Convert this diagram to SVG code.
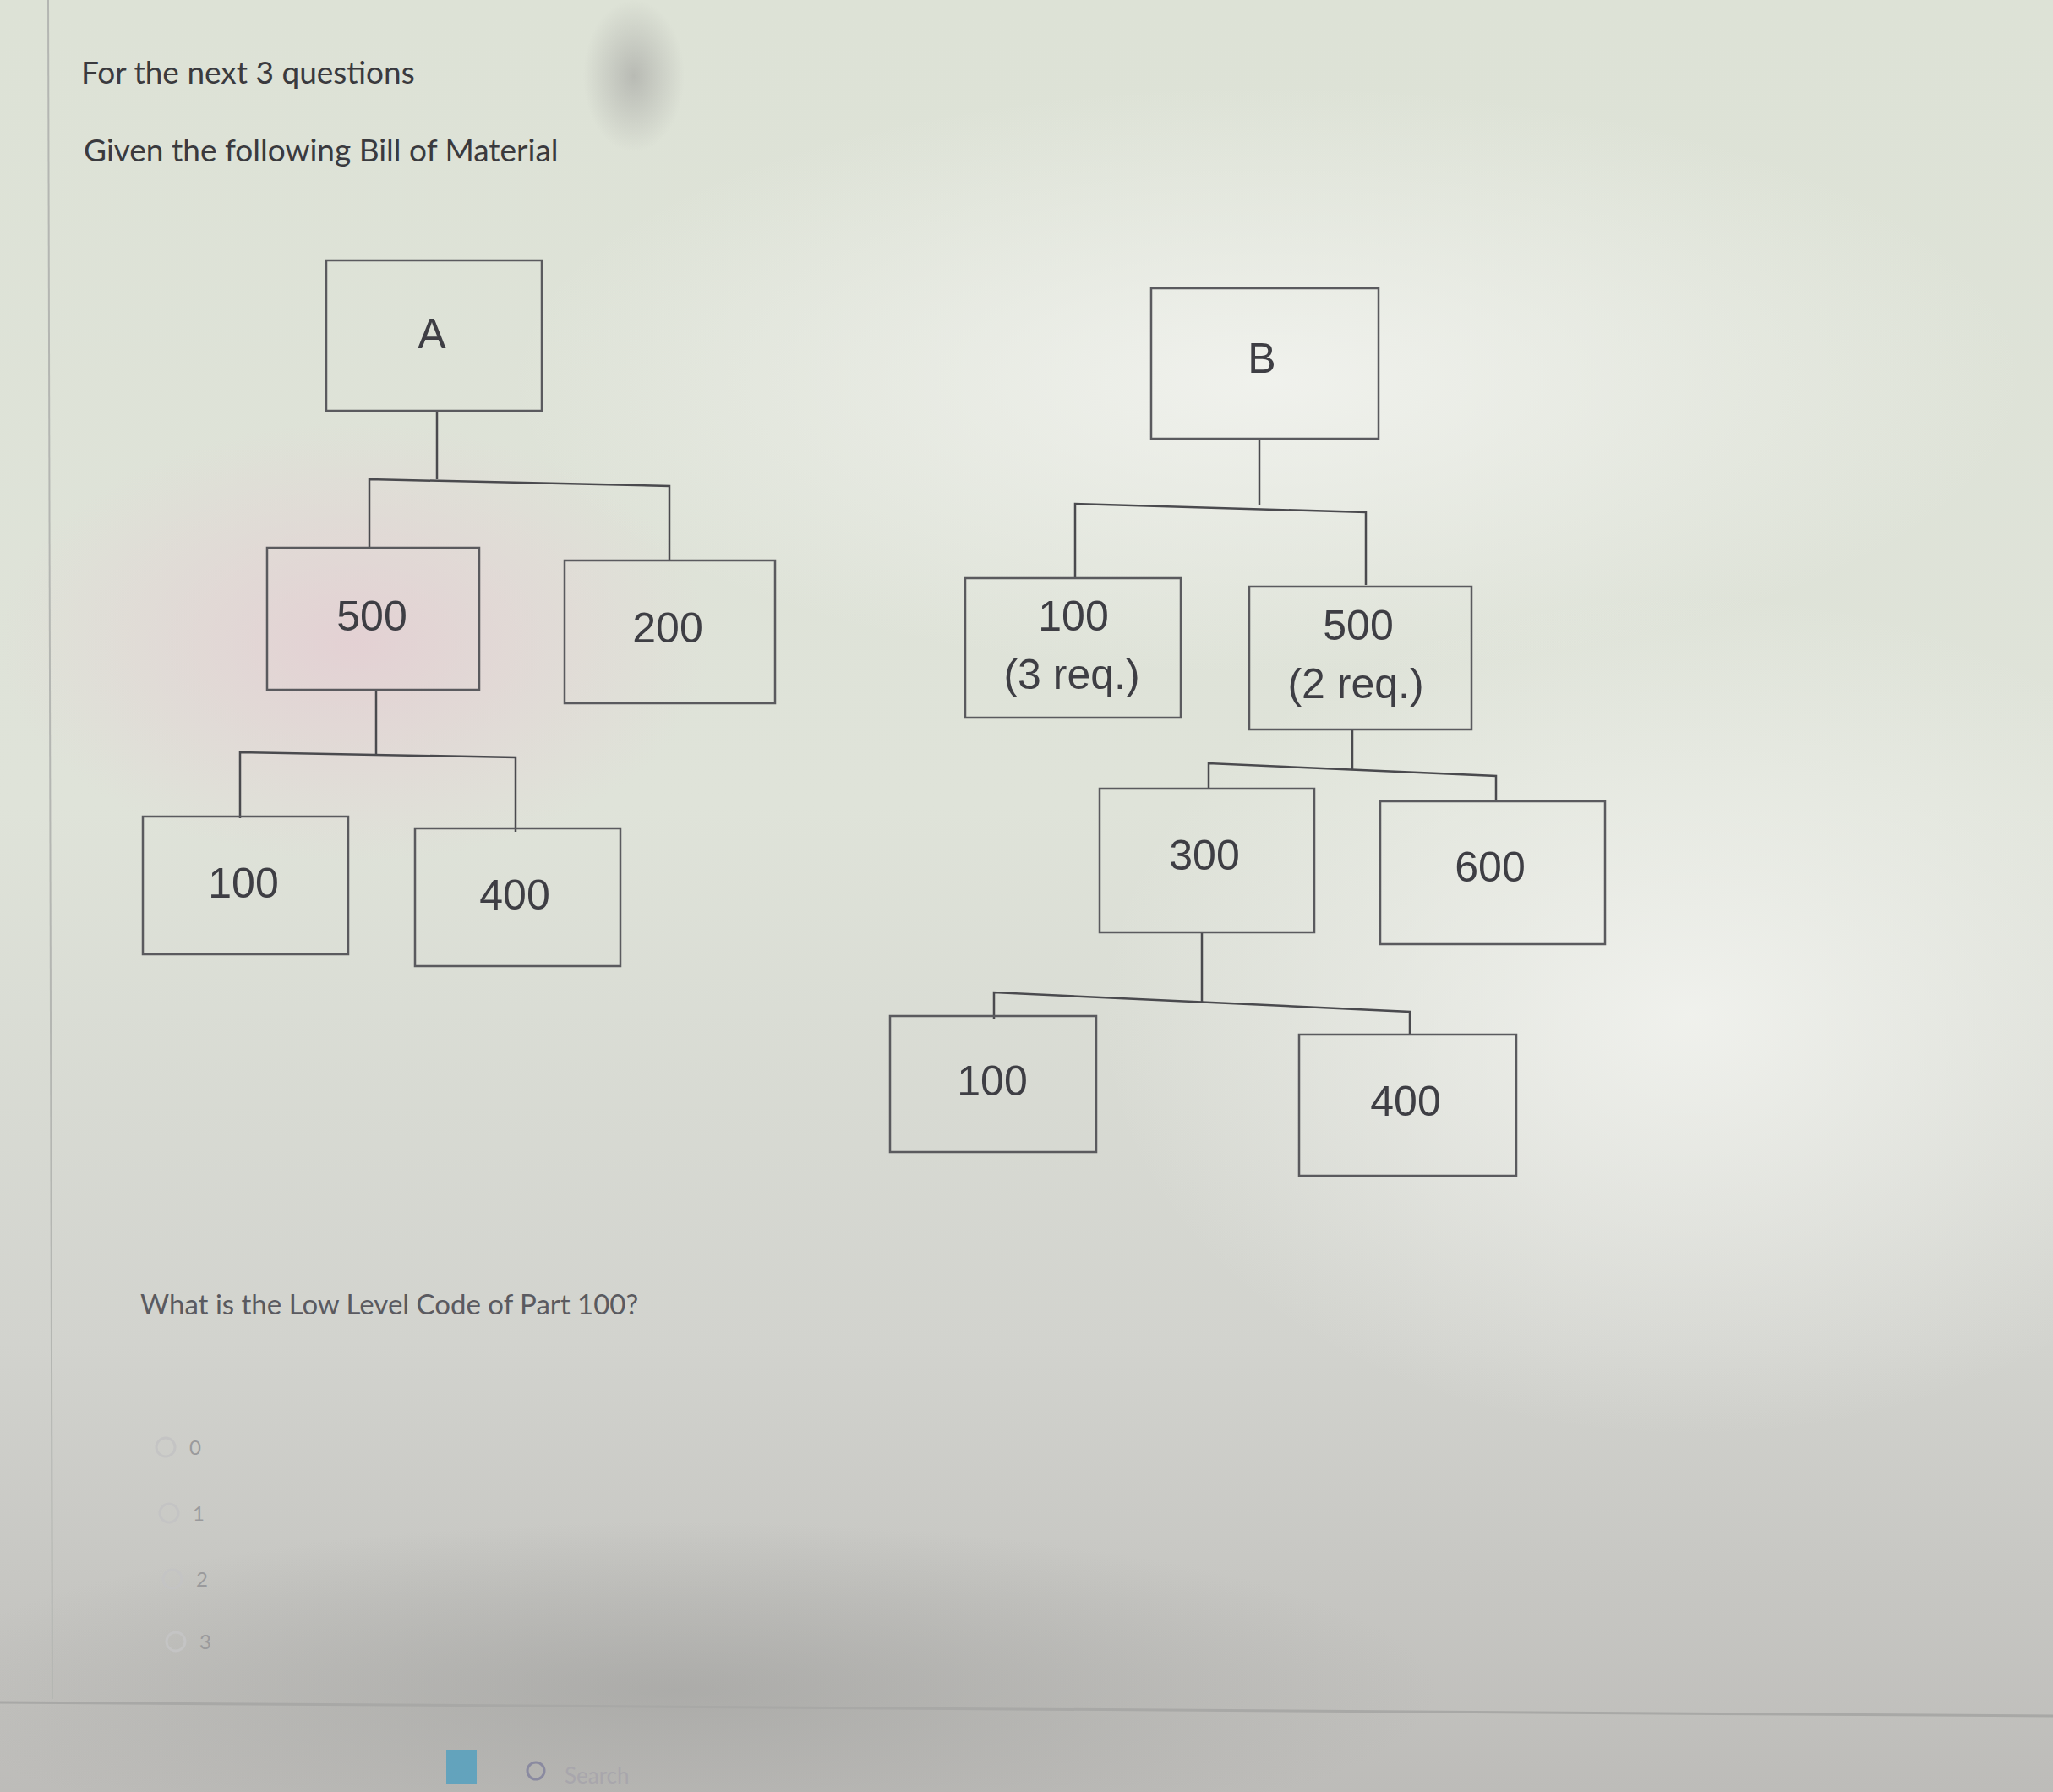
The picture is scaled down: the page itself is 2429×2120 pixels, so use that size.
<svg xmlns="http://www.w3.org/2000/svg" width="2429" height="2120" viewBox="0 0 2429 2120">
<defs>
<linearGradient id="bg" x1="0" y1="0" x2="0" y2="1">
<stop offset="0" stop-color="#dde2d6"/>
<stop offset="0.45" stop-color="#dfe3d9"/>
<stop offset="0.75" stop-color="#d2d3ce"/>
<stop offset="1" stop-color="#bdbcb9"/>
</linearGradient>
<radialGradient id="pink" cx="0.5" cy="0.5" r="0.5">
<stop offset="0" stop-color="#e4cfd3" stop-opacity="0.9"/>
<stop offset="1" stop-color="#e4cfd3" stop-opacity="0"/>
</radialGradient>
<radialGradient id="white" cx="0.5" cy="0.5" r="0.5">
<stop offset="0" stop-color="#f2f3ef" stop-opacity="0.9"/>
<stop offset="1" stop-color="#f2f3ef" stop-opacity="0"/>
</radialGradient>
<radialGradient id="dark" cx="0.5" cy="0.5" r="0.5">
<stop offset="0" stop-color="#9a9a98" stop-opacity="0.55"/>
<stop offset="1" stop-color="#9a9a98" stop-opacity="0"/>
</radialGradient>
<style>
.box{fill:none;stroke:#5a5a5e;stroke-width:2.5}
.lbl{font-family:"Liberation Sans",Arial,sans-serif;font-size:50px;fill:#3e3e44;text-anchor:middle}
.con{fill:none;stroke:#4a4a4e;stroke-width:2.5}
.hdr{font-family:Lato,"Liberation Sans",sans-serif;font-size:37px;fill:#3a3a3e}
.q{font-family:Lato,"Liberation Sans",sans-serif;font-size:33px;fill:#5a5a60}
.opt{font-family:Lato,"Liberation Sans",sans-serif;font-size:24px;fill:#9a9a9c}
</style>
</defs>
<rect x="0" y="0" width="2429" height="2120" fill="url(#bg)"/>
<ellipse cx="420" cy="760" rx="420" ry="260" fill="url(#pink)"/>
<ellipse cx="1500" cy="450" rx="900" ry="350" fill="url(#white)"/>
<ellipse cx="2000" cy="1200" rx="700" ry="500" fill="url(#white)"/>
<ellipse cx="750" cy="90" rx="60" ry="90" fill="url(#dark)"/>
<ellipse cx="800" cy="2000" rx="900" ry="200" fill="url(#dark)"/>
<line x1="57" y1="0" x2="62" y2="2010" stroke="#b4b6b2" stroke-width="2"/>
<line x1="0" y1="2014" x2="2429" y2="2030" stroke="#a8a8a6" stroke-width="3"/>

<text class="hdr" x="96" y="99">For the next 3 questions</text>
<text class="hdr" x="99" y="191">Given the following Bill of Material</text>

<g id="connectors">
<polyline class="con" points="517,486 517,567"/>
<polyline class="con" points="437,648 437,567 792,575 792,663"/>
<polyline class="con" points="445,816 445,894"/>
<polyline class="con" points="284,968 284,890 610,896 610,984"/>
<polyline class="con" points="1490,519 1490,598"/>
<polyline class="con" points="1272,683 1272,596 1616,606 1616,692"/>
<polyline class="con" points="1600,863 1600,910"/>
<polyline class="con" points="1430,933 1430,903 1770,918 1770,948"/>
<polyline class="con" points="1422,1103 1422,1186"/>
<polyline class="con" points="1176,1205 1176,1174 1668,1197 1668,1224"/>
</g>

<g id="nodeA"><rect class="box" x="386" y="308" width="255" height="178"/><text class="lbl" x="511" y="412">A</text></g>
<g id="nodeA500"><rect class="box" x="316" y="648" width="251" height="168"/><text class="lbl" x="440" y="746">500</text></g>
<g id="nodeA200"><rect class="box" x="668" y="663" width="249" height="169"/><text class="lbl" x="790" y="760">200</text></g>
<g id="nodeA100"><rect class="box" x="169" y="966" width="243" height="163"/><text class="lbl" x="288" y="1062">100</text></g>
<g id="nodeA400"><rect class="box" x="491" y="980" width="243" height="163"/><text class="lbl" x="609" y="1076">400</text></g>

<g id="nodeB"><rect class="box" x="1362" y="341" width="269" height="178"/><text class="lbl" x="1493" y="441">B</text></g>
<g id="nodeB100"><rect class="box" x="1142" y="684" width="255" height="165"/><text class="lbl" x="1270" y="746">100</text><text class="lbl" x="1268" y="815">(3 req.)</text></g>
<g id="nodeB500"><rect class="box" x="1478" y="694" width="263" height="169"/><text class="lbl" x="1607" y="757">500</text><text class="lbl" x="1604" y="826">(2 req.)</text></g>
<g id="nodeB300"><rect class="box" x="1301" y="933" width="254" height="170"/><text class="lbl" x="1425" y="1029">300</text></g>
<g id="nodeB600"><rect class="box" x="1633" y="948" width="266" height="169"/><text class="lbl" x="1763" y="1043">600</text></g>
<g id="nodeB100b"><rect class="box" x="1053" y="1202" width="244" height="161"/><text class="lbl" x="1174" y="1296">100</text></g>
<g id="nodeB400"><rect class="box" x="1537" y="1224" width="257" height="167"/><text class="lbl" x="1663" y="1320">400</text></g>

<text class="q" x="166" y="1555">What is the Low Level Code of Part 100?</text>
<g fill="none" stroke="#c4c4c4" stroke-width="3">
<circle cx="196" cy="1712" r="11"/>
<circle cx="200" cy="1790" r="11"/>
<circle cx="204" cy="1868" r="11"/>
<circle cx="208" cy="1942" r="11"/>
</g>
<text class="opt" x="224" y="1721">0</text>
<text class="opt" x="228" y="1799">1</text>
<text class="opt" x="232" y="1877">2</text>
<text class="opt" x="236" y="1951">3</text>

<rect x="528" y="2070" width="36" height="40" fill="#4f9fbf" opacity="0.8"/>
<circle cx="634" cy="2095" r="10" fill="none" stroke="#8a8aa0" stroke-width="3"/>
<text x="668" y="2110" font-family="Lato,'Liberation Sans',sans-serif" font-size="26" fill="#a8a6ac">Search</text>
</svg>
